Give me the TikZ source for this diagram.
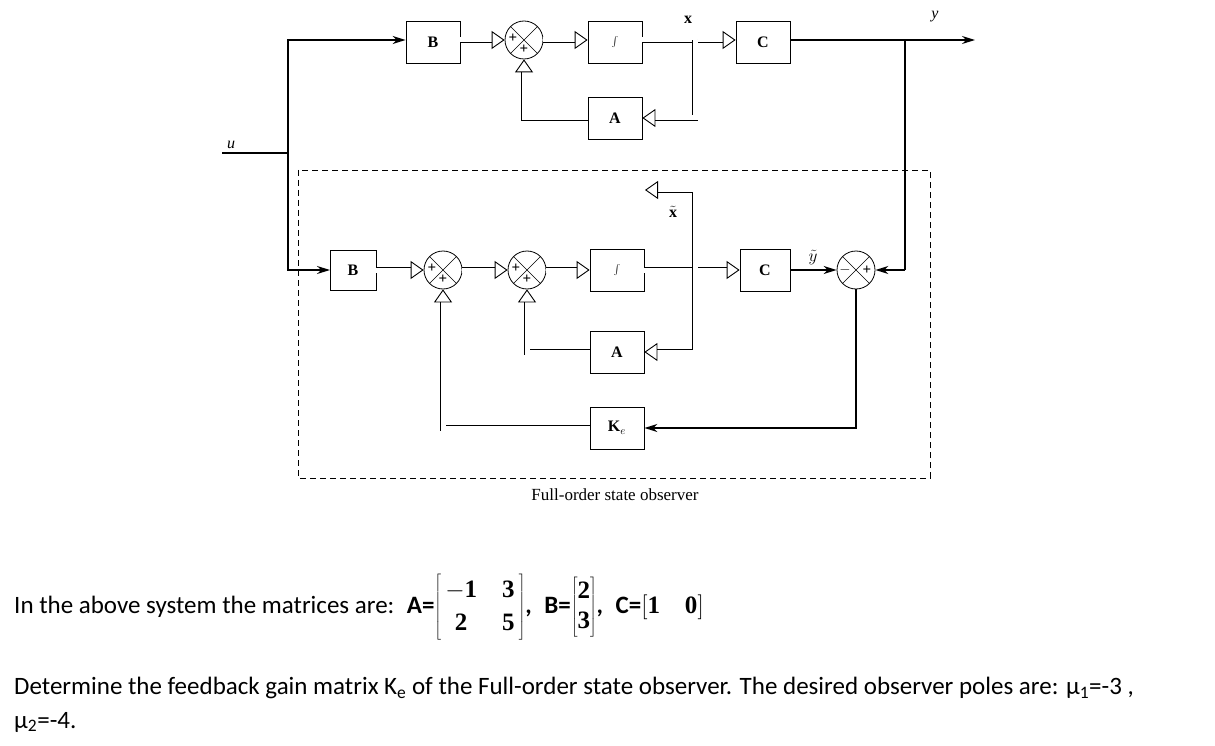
\documentclass[tikz,border=0pt]{standalone}
\usepackage{fontspec}
\setmainfont{Liberation Serif}
\newfontfamily\bodyfont{Carlito}
\usetikzlibrary{arrows.meta,calc}
\begin{document}
\begin{tikzpicture}[x=1pt,y=-1pt,
 blk/.style={draw,line width=0.8pt,minimum width=54pt,minimum height=42pt,inner sep=0pt,font=\fontsize{16}{18}\selectfont\bfseries},
 sumj/.style={draw,circle,line width=0.8pt,minimum size=38pt,inner sep=0pt,
   path picture={\draw[line width=0.6pt] (path picture bounding box.north west)--(path picture bounding box.south east) (path picture bounding box.north east)--(path picture bounding box.south west);}},
 dbl/.style={double distance=5pt,line width=0.9pt,-{Triangle[open,length=13pt,width=18pt,fill=white,line width=0.9pt]}},
 dbln/.style={double distance=5pt,line width=0.9pt},
 sig/.style={line width=1.6pt,-{Stealth[length=13pt,width=8pt]}},
 sgn/.style={font=\fontsize{15}{15}\selectfont\bfseries,inner sep=0pt},
 lbl/.style={font=\fontsize{16}{18}\selectfont}]
\useasboundingbox (0,0) rectangle (1215,746);
% top plant
\node[blk] (B1) at (433,42) {B};
\node[sumj] (S1) at (524,40) {};
\node[sgn] at ($(S1)+(-11,-2)$) {+};
\node[sgn] at ($(S1)+(0,9)$) {+};
\node[blk] (I1) at (615,42) {\fontsize{20}{20}\selectfont$\int$};
\node[blk] (C1) at (763,42) {C};
\node[blk] (A1) at (615,118) {A};
\node[lbl] at (688,20) {\bfseries x};
\node[lbl] at (935,17) {\itshape y};
\node[lbl] at (231,145) {\itshape u};
\coordinate (uL) at (222,153);
\coordinate (uJ) at (288,153);
\draw[line width=1.6pt] (uL) -- (uJ);
\draw[sig] (uJ) |- (B1.west|-0,40);
\draw[sig] (uJ) |- (330,270);
\draw[dbl] (B1.east|-0,40) -- (S1.west);
\draw[dbl] (S1.east) -- (I1.west|-0,40);
\draw[dbln] (I1.east|-0,40) -- (695,40);
\draw[dbl] (695,40) -- (C1.west|-0,40);
\draw[dbl] (695,40) -- (695,118) -- (A1.east);
\draw[dbl] (A1.west) -- (524,118) -- (S1.south);
\draw[sig] (C1.east|-0,40) -- (975,40);
\draw[line width=1.6pt] (905,40) -- (905,270);
% observer
\draw[line width=0.6pt,dash pattern=on 6pt off 4pt] (298,170) rectangle (930,478);
\node[lbl,font=\fontsize{17}{19}\selectfont] at (615,495) {Full-order state observer};
\node[blk,minimum width=46pt,minimum height=40pt] (B2) at (353,270) {B};
\node[sumj] (S2) at (443,270) {};
\node[sgn] at ($(S2)+(-11,-2)$) {+};
\node[sgn] at ($(S2)+(0,9)$) {+};
\node[sumj] (S3) at (527,270) {};
\node[sgn] at ($(S3)+(-11,-2)$) {+};
\node[sgn] at ($(S3)+(0,9)$) {+};
\node[blk] (I2) at (617,270) {\fontsize{20}{20}\selectfont$\int$};
\node[blk,minimum width=50pt] (C2) at (765,270) {C};
\node[sumj] (S4) at (856,270) {};
\node[sgn] at ($(S4)+(-11,0)$) {$-$};
\node[sgn] at ($(S4)+(11,0)$) {+};
\node[blk] (A2) at (617,352) {A};
\node[blk] (K) at (617,428) {K$_e$};
\node[lbl] at (673,212) {$\tilde{\mathbf{x}}$};
\node[lbl] at (813,258) {$\tilde{y}$};
\coordinate (xo) at (645,190);
\draw[dbl] (B2.east) -- (S2.west);
\draw[dbl] (S2.east) -- (S3.west);
\draw[dbl] (S3.east) -- (I2.west);
\draw[dbln] (I2.east) -- (695,270);
\draw[dbl] (695,270) -- (C2.west);
\draw[dbl] (695,270) -- (695,190) -- (xo);
\draw[dbl] (695,270) -- (695,352) -- (A2.east);
\draw[dbl] (A2.west) -- (527,352) -- (S3.south);
\draw[dbl] (K.west) -- (443,428) -- (S2.south);
\draw[sig] (C2.east) -- (S4.west);
\draw[sig] (905,270) -- (S4.east);
\draw[sig] (S4.south) |- (K.east);
% text
\node[anchor=west,font=\bodyfont\fontsize{25}{30}\selectfont,inner sep=0pt] (t1) at (14,607) {In the above system the matrices are:\enspace
 \textbf{A=}$\renewcommand\arraystretch{1.1}\left[\begin{array}{@{\,}c@{\quad}c@{\,}}\mathbf{-1}&\mathbf{3}\\ \mathbf{2}&\mathbf{5}\end{array}\right]$\textbf{,}\enspace
 \textbf{B=}$\left[\begin{array}{@{}c@{}}\mathbf{2}\\ \mathbf{3}\end{array}\right]$\textbf{,}\enspace
 \textbf{C=}$[\mathbf{1}\quad\mathbf{0}]$};
\node[anchor=west,font=\bodyfont\fontsize{25}{30}\selectfont,inner sep=0pt] at (14,688) {Determine the feedback gain matrix K\textsubscript{e} of the Full-order state observer. The desired observer poles are: µ\textsubscript{1}=-3 ,};
\node[anchor=west,font=\bodyfont\fontsize{25}{30}\selectfont,inner sep=0pt] at (14,722) {µ\textsubscript{2}=-4.};
\end{tikzpicture}
\end{document}
